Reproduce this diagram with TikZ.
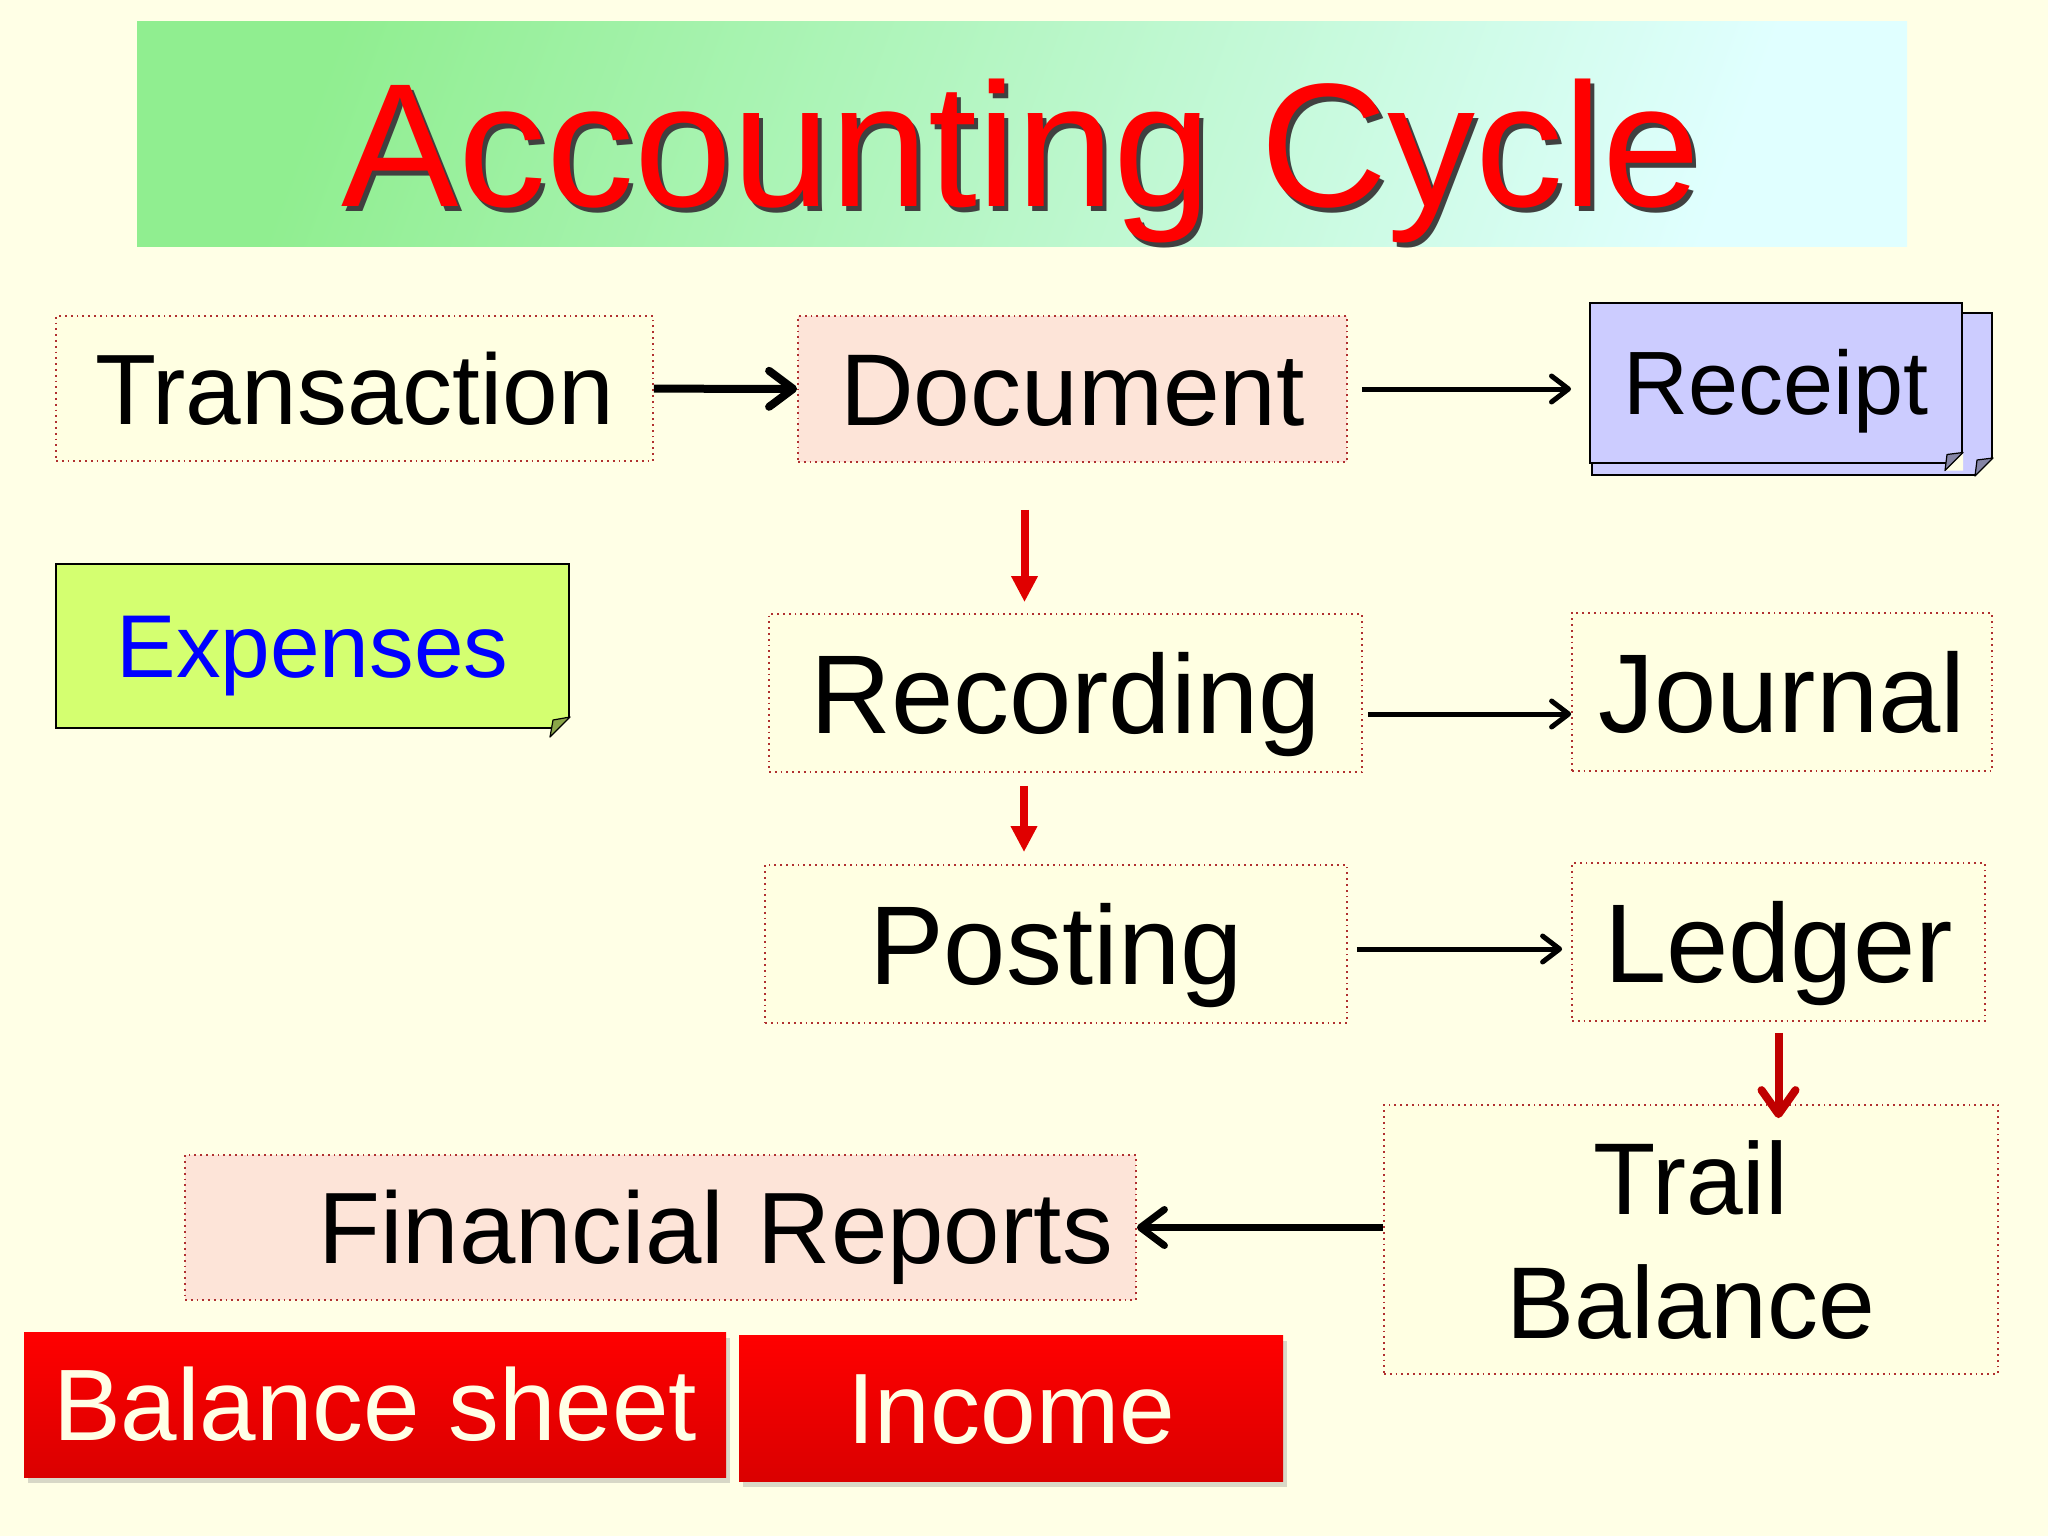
\documentclass[tikz,border=0pt]{standalone}
\usepackage{fontspec}
\setmainfont{Liberation Sans}
\usetikzlibrary{arrows.meta,shadows}

\definecolor{bgcol}{HTML}{FFFFE6}
\definecolor{paleyel}{HTML}{FFFFE2}
\definecolor{palepink}{HTML}{FDE4D8}
\definecolor{dotred}{HTML}{B03030}
\definecolor{lavend}{HTML}{CCCCFF}
\definecolor{limey}{HTML}{D4FF70}
\definecolor{bangreen}{HTML}{90EE90}
\definecolor{bancyan}{HTML}{E0FFFF}
\definecolor{darkred}{HTML}{C00000}
\definecolor{brightred}{HTML}{FF0000}
\definecolor{deepred}{HTML}{DA0000}
\definecolor{notered}{HTML}{E00000}

\newcommand{\shadowtext}[1]{\makebox[0pt][l]{\kern2pt\raisebox{-2.5pt}{\textcolor{black!75}{#1}}}#1}

\tikzset{
  dotbox/.style={draw=dotred, dotted, line width=0.9pt, inner sep=0pt, text depth=0pt},
  notebox/.style={draw=black, line width=1pt, inner sep=0pt, text depth=0pt},
  redbox/.style={top color=brightred, bottom color=deepred, text=bgcol, inner sep=0pt,
    text depth=0pt, drop shadow={opacity=0.3, shadow xshift=2pt, shadow yshift=-3pt}},
  flow/.style={-{Straight Barb[round, length=8.5pt, width=13pt]}, line width=2.5pt},
  bigflow/.style={-{Straight Barb[round, length=12pt, width=18pt]}, line width=4pt},
  downflow/.style={-{Triangle[length=13pt, width=12.5pt]}, notered, line width=4pt},
  fold/.style={fill=black!35!#1, draw=black, line width=0.6pt, line join=round}
}

\begin{document}
\begin{tikzpicture}[x=0.5pt, y=-0.5pt]
  \fill[bgcol] (0,0) rectangle (2048,1536);
  \useasboundingbox (0,0) rectangle (2048,1536);

  % title
  \node[inner sep=0pt, minimum width=885pt, minimum height=112pt,
        left color=bangreen, right color=bancyan, shading angle=70] (banner) at (1022,134) {};
  \node[text=red, font=\fontsize{88}{100}\selectfont,
        text height=63pt, text depth=0pt, inner sep=0pt] (ttl) at (1021,143.5) {\shadowtext{Accounting Cycle}};

  % first row
  \node[dotbox, fill=paleyel, minimum width=298.5pt, minimum height=72.5pt,
        font=\fontsize{50}{60}\selectfont, text height=35.8pt] (trans) at (354.5,388.5) {Transaction};
  \node[dotbox, fill=palepink, minimum width=274.5pt, minimum height=73pt,
        font=\fontsize{51}{61}\selectfont, text height=36.5pt] (doc) at (1072.5,389) {Document};
  \node[notebox, fill=lavend, minimum width=200pt, minimum height=81pt] (rcptback) at (1792,394) {};
  \fill[bgcol] (rcptback.south east) -- ++(-18,0) -- ++(18,-18) -- cycle;
  \draw[fold=lavend] (rcptback.south east) ++(-18,0) -- ++(18,-18) -- ++(-16,2) -- cycle;
  \node[notebox, fill=lavend, minimum width=186pt, minimum height=80pt,
        font=\fontsize{45}{54}\selectfont, text height=32.2pt, yshift=3.5pt] (rcpt) at (1776,389.5) {Receipt};
  \fill[bgcol] ([yshift=-3.5pt]rcpt.south east) -- ++(-18,0) -- ++(18,-18) -- cycle;
  \draw[fold=lavend] ([yshift=-3.5pt]rcpt.south east) ++(-18,0) -- ++(18,-18) -- ++(-16,2) -- cycle;

  % expenses note
  \node[notebox, fill=limey, text=blue, minimum width=256.5pt, minimum height=82pt,
        font=\fontsize{44.6}{54}\selectfont, text height=31.9pt, yshift=4pt] (exp) at (312.5,654) {Expenses};
  \fill[bgcol] ([yshift=-4pt]exp.south east) -- ++(-20,0) -- ++(20,-20) -- cycle;
  \draw[fold=limey] ([yshift=-4pt]exp.south east) ++(-20,0) -- ++(20,-20) -- ++(-17,3) -- cycle;

  % middle rows
  \node[dotbox, fill=paleyel, minimum width=296.5pt, minimum height=79pt,
        font=\fontsize{56}{67}\selectfont, text height=40.1pt] (rec) at (1065.5,693) {Recording};
  \node[dotbox, fill=paleyel, minimum width=210pt, minimum height=79pt,
        font=\fontsize{56}{67}\selectfont, text height=40.1pt] (jour) at (1782,692) {Journal};
  \node[dotbox, fill=paleyel, minimum width=291pt, minimum height=79pt,
        font=\fontsize{56}{67}\selectfont, text height=40.1pt] (post) at (1056,944) {Posting};
  \node[dotbox, fill=paleyel, minimum width=206.5pt, minimum height=79pt,
        font=\fontsize{56}{67}\selectfont, text height=40.1pt] (ledg) at (1778.5,942) {Ledger};

  % bottom
  \node[dotbox, fill=paleyel, minimum width=307pt, minimum height=134.5pt, align=center,
        font=\fontsize{51}{62}\selectfont] (trail) at (1691,1239.5) {Trail\\Balance};
  \node[dotbox, fill=palepink, minimum height=72.5pt, inner xsep=11.5pt, text width=452.5pt,
        align=right, font=\fontsize{50.7}{61}\selectfont, text height=36.3pt] (fin) at (660.5,1227.5) {Financial Reports};
  \node[redbox, minimum width=351pt, minimum height=72.5pt,
        font=\fontsize{50.8}{61}\selectfont, text height=36.4pt] (bal) at (375,1404.5) {Balance sheet};
  \node[redbox, minimum width=272pt, minimum height=73pt,
        font=\fontsize{50}{60}\selectfont, text height=35.8pt] (inc) at (1011,1408) {Income};

  % connectors
  \draw[bigflow] (trans) -- (doc);
  \draw[flow, shorten <=7pt, shorten >=9pt] (doc.east) -- (doc.east -| rcpt.west);
  \draw[downflow, shorten <=23.5pt, shorten >=5.5pt] ([xshift=-24pt]doc.south) -- ([xshift=-24pt]doc.south |- rec.north);
  \draw[flow, shorten <=2.5pt] ([yshift=-10.5pt]rec.east) -- ([yshift=-10.5pt]rec.east -| jour.west);
  \draw[downflow, shorten <=6.5pt, shorten >=6pt] ([xshift=-20.75pt]rec.south) -- ([xshift=-20.75pt]rec.south |- post.north);
  \draw[flow, shorten <=4.5pt, shorten >=4.5pt] ([yshift=-2.5pt]post.east) -- ([yshift=-2.5pt]post.east -| ledg.west);
  \draw[-{Straight Barb[round, length=12pt, width=17pt]}, darkred, line width=4pt,
        shorten <=5.5pt, shorten >=-7pt] (ledg.south) -- (ledg.south |- trail.north);
  \draw[-{Straight Barb[round, length=12pt, width=18pt]}, line width=3.5pt] (trail.west |- fin) -- (fin);
\end{tikzpicture}
\end{document}
